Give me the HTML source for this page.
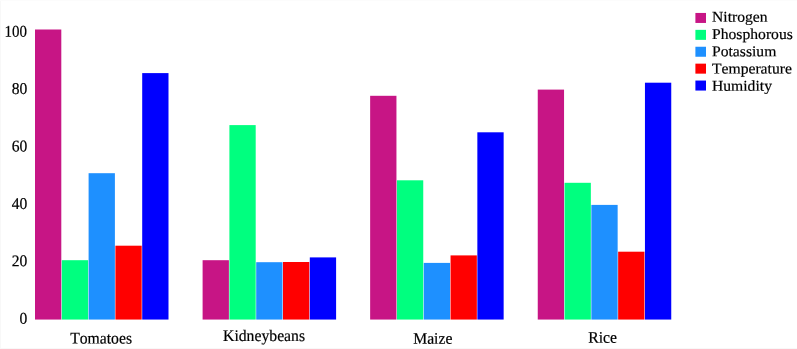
<!DOCTYPE html>
<html><head><meta charset="utf-8"><title>Chart</title>
<style>
html,body{margin:0;padding:0;background:#fff;}
body{width:797px;height:349px;overflow:hidden;}
svg{display:block;}
text{font-family:"Liberation Serif","DejaVu Serif",serif;fill:#000;font-kerning:none;stroke:#000;stroke-width:0.2px;}
.y{font-size:15.6px;text-anchor:end;}
.x{font-size:15.7px;text-anchor:middle;}
.l{font-size:15.65px;}
</style></head><body>
<svg width="797" height="349" viewBox="0 0 797 349">
<rect x="0" y="0" width="797" height="349" fill="#ffffff"/>
<rect x="0" y="0" width="1" height="349" fill="#f8f8f8"/>
<rect x="0" y="348" width="797" height="1" fill="#f8f8f8"/>
<rect x="0" y="0" width="797" height="1" fill="#fcfcfc"/>
<rect x="35.00" y="29.50" width="26.30" height="290.05" fill="#C71585"/>
<rect x="61.80" y="260.20" width="26.30" height="59.35" fill="#00FF7F"/>
<rect x="88.60" y="173.20" width="26.30" height="146.35" fill="#1E90FF"/>
<rect x="115.40" y="245.70" width="26.30" height="73.85" fill="#FF0000"/>
<rect x="142.20" y="73.10" width="26.30" height="246.45" fill="#0000FF"/>
<rect x="202.60" y="260.20" width="26.30" height="59.35" fill="#C71585"/>
<rect x="229.40" y="125.10" width="26.30" height="194.45" fill="#00FF7F"/>
<rect x="256.20" y="262.20" width="26.30" height="57.35" fill="#1E90FF"/>
<rect x="283.00" y="262.00" width="26.30" height="57.55" fill="#FF0000"/>
<rect x="309.80" y="257.40" width="26.30" height="62.15" fill="#0000FF"/>
<rect x="370.15" y="95.80" width="26.30" height="223.75" fill="#C71585"/>
<rect x="396.95" y="180.30" width="26.30" height="139.25" fill="#00FF7F"/>
<rect x="423.75" y="262.90" width="26.30" height="56.65" fill="#1E90FF"/>
<rect x="450.55" y="255.40" width="26.30" height="64.15" fill="#FF0000"/>
<rect x="477.35" y="132.30" width="26.30" height="187.25" fill="#0000FF"/>
<rect x="537.75" y="89.60" width="26.30" height="229.95" fill="#C71585"/>
<rect x="564.55" y="182.80" width="26.30" height="136.75" fill="#00FF7F"/>
<rect x="591.35" y="204.90" width="26.30" height="114.65" fill="#1E90FF"/>
<rect x="618.15" y="251.70" width="26.30" height="67.85" fill="#FF0000"/>
<rect x="644.95" y="82.70" width="26.30" height="236.85" fill="#0000FF"/>
<text class="y" transform="translate(27.05,36.68) matrix(0.960,0.001,0,1.050,0,0)">100</text>
<text class="y" transform="translate(27.30,94.10) matrix(1.000,0.001,0,1.050,0,0)">80</text>
<text class="y" transform="translate(27.30,151.50) matrix(1.000,0.001,0,1.050,0,0)">60</text>
<text class="y" transform="translate(27.30,208.93) matrix(1.000,0.001,0,1.050,0,0)">40</text>
<text class="y" transform="translate(27.30,266.38) matrix(1.000,0.001,0,1.050,0,0)">20</text>
<text class="y" transform="translate(27.30,323.68) matrix(1.000,0.001,0,1.050,0,0)">0</text>
<text class="x" transform="translate(101.10,343.45) matrix(1.000,0.001,0,1.035,0,0)">Tomatoes</text>
<text class="x" transform="translate(264.05,341.00) matrix(1.000,0.001,0,1.035,0,0)">Kidneybeans</text>
<text class="x" transform="translate(432.80,343.75) matrix(1.000,0.001,0,1.035,0,0)">Maize</text>
<text class="x" transform="translate(602.60,342.75) matrix(1.000,0.001,0,1.035,0,0)">Rice</text>
<rect x="695.4" y="12.95" width="10.6" height="10.0" fill="#C71585"/>
<text class="l" transform="translate(712.00,21.65) matrix(1.000,0.001,0,0.960,0,0)">Nitrogen</text>
<rect x="695.4" y="29.85" width="10.6" height="10.0" fill="#00FF7F"/>
<text class="l" transform="translate(712.00,39.00) matrix(1.000,0.001,0,0.960,0,0)">Phosphorous</text>
<rect x="695.4" y="46.75" width="10.6" height="10.0" fill="#1E90FF"/>
<text class="l" transform="translate(712.00,56.25) matrix(1.000,0.001,0,0.960,0,0)">Potassium</text>
<rect x="695.4" y="63.65" width="10.6" height="10.0" fill="#FF0000"/>
<text class="l" transform="translate(712.00,73.50) matrix(1.000,0.001,0,0.960,0,0)">Temperature</text>
<rect x="695.4" y="80.55" width="10.6" height="10.0" fill="#0000FF"/>
<text class="l" transform="translate(712.00,90.75) matrix(1.000,0.001,0,0.960,0,0)">Humidity</text>
</svg></body></html>
